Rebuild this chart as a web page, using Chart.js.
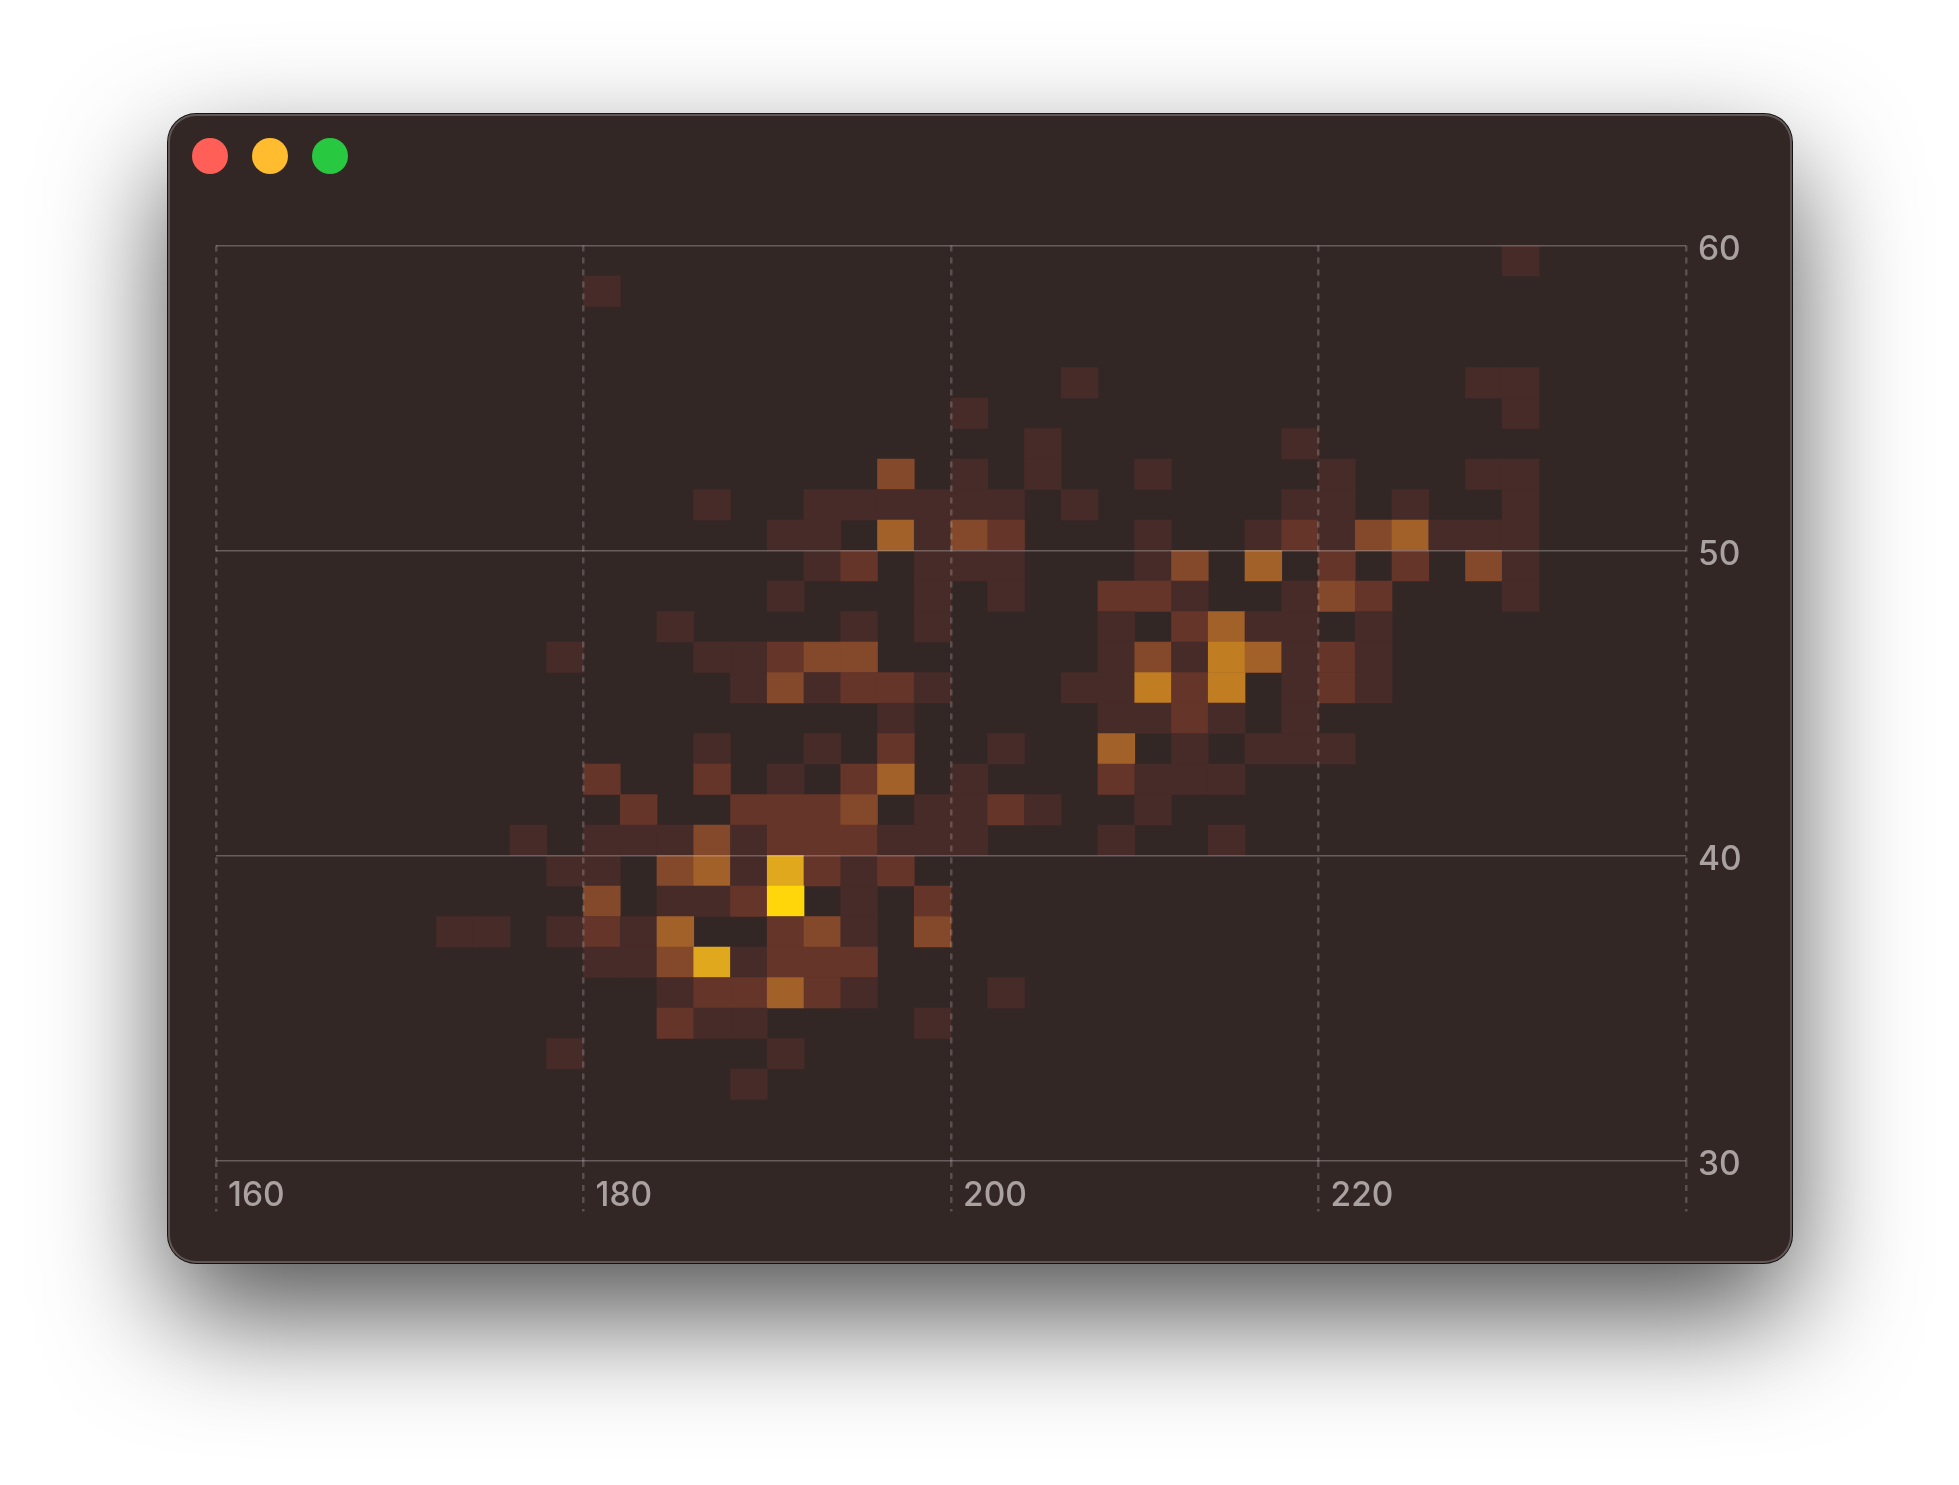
<!DOCTYPE html>
<html>
<head>
<meta charset="utf-8">
<title>Heatmap</title>
<script src="https://cdn.jsdelivr.net/npm/chart.js@4"></script>
<style>
html,body{margin:0;padding:0;background:#fff;width:1959px;height:1485px;overflow:hidden}
#win{position:absolute;left:168px;top:114px;width:1624px;height:1149px;box-sizing:border-box;border-radius:28px;background:#332726;
box-shadow:inset 0 0 0 2px #615756,0 0 0 1px #141414,0 52px 120px 0 rgba(0,0,0,.68)}
.dot{position:absolute;top:23.5px;width:36px;height:36px;border-radius:50%}
#c{position:absolute;left:0;top:0}
</style>
</head>
<body>
<div id="win">
<div class="dot" style="left:24px;background:#ff5f57"></div>
<div class="dot" style="left:84px;background:#febc2e"></div>
<div class="dot" style="left:144px;background:#28c840"></div>
</div>
<canvas id="c" width="1959" height="1485"></canvas>
<script>
// Bin edges: x bins are 2 wide from 160, y rows are 1 tall, listed from the top row down.
const xBinStart = [160,162,164,166,168,170,172,174,176,178,180,182,184,186,188,190,192,194,196,198,200,202,204,206,208,210,212,214,216,218,220,222,224,226,228,230,232,234,236,238];
const yBinStart = [59,58,57,56,55,54,53,52,51,50,49,48,47,46,45,44,43,42,41,40,39,38,37,36,35,34,33,32,31,30];
const xTicks = [160,180,200,220,240];
const xTickLabels = ['160','180','200','220',''];
const yTicks = [30,40,50,60];
const yTickLabels = ['30','40','50','60'];
// Observation count per cell: one row per yBinStart, one column per xBinStart.
const counts = [
[0,0,0,0,0,0,0,0,0,0, 0,0,0,0,0,0,0,0,0,0, 0,0,0,0,0,0,0,0,0,0, 0,0,0,0,0,1,0,0,0,0],
[0,0,0,0,0,0,0,0,0,0, 1,0,0,0,0,0,0,0,0,0, 0,0,0,0,0,0,0,0,0,0, 0,0,0,0,0,0,0,0,0,0],
[0,0,0,0,0,0,0,0,0,0, 0,0,0,0,0,0,0,0,0,0, 0,0,0,0,0,0,0,0,0,0, 0,0,0,0,0,0,0,0,0,0],
[0,0,0,0,0,0,0,0,0,0, 0,0,0,0,0,0,0,0,0,0, 0,0,0,0,0,0,0,0,0,0, 0,0,0,0,0,0,0,0,0,0],
[0,0,0,0,0,0,0,0,0,0, 0,0,0,0,0,0,0,0,0,0, 0,0,0,1,0,0,0,0,0,0, 0,0,0,0,1,1,0,0,0,0],
[0,0,0,0,0,0,0,0,0,0, 0,0,0,0,0,0,0,0,0,0, 1,0,0,0,0,0,0,0,0,0, 0,0,0,0,0,1,0,0,0,0],
[0,0,0,0,0,0,0,0,0,0, 0,0,0,0,0,0,0,0,0,0, 0,0,1,0,0,0,0,0,0,1, 0,0,0,0,0,0,0,0,0,0],
[0,0,0,0,0,0,0,0,0,0, 0,0,0,0,0,0,0,0,3,0, 1,0,1,0,0,1,0,0,0,0, 1,0,0,0,1,1,0,0,0,0],
[0,0,0,0,0,0,0,0,0,0, 0,0,0,1,0,0,1,1,1,1, 1,1,0,1,0,0,0,0,0,1, 1,0,1,0,0,1,0,0,0,0],
[0,0,0,0,0,0,0,0,0,0, 0,0,0,0,0,1,1,0,4,1, 3,2,0,0,0,1,0,0,1,2, 1,3,4,1,1,1,0,0,0,0],
[0,0,0,0,0,0,0,0,0,0, 0,0,0,0,0,0,1,2,0,1, 1,1,0,0,0,1,3,0,4,0, 2,0,2,0,3,1,0,0,0,0],
[0,0,0,0,0,0,0,0,0,0, 0,0,0,0,0,1,0,0,0,1, 0,1,0,0,2,2,1,0,0,1, 3,2,0,0,0,1,0,0,0,0],
[0,0,0,0,0,0,0,0,0,0, 0,0,1,0,0,0,0,1,0,1, 0,0,0,0,1,0,2,4,1,1, 0,1,0,0,0,0,0,0,0,0],
[0,0,0,0,0,0,0,0,0,1, 0,0,0,1,1,2,3,3,0,0, 0,0,0,0,1,3,1,5,4,1, 2,1,0,0,0,0,0,0,0,0],
[0,0,0,0,0,0,0,0,0,0, 0,0,0,0,1,3,1,2,2,1, 0,0,0,1,1,5,2,5,0,1, 2,1,0,0,0,0,0,0,0,0],
[0,0,0,0,0,0,0,0,0,0, 0,0,0,0,0,0,0,0,1,0, 0,0,0,0,1,1,2,1,0,1, 0,0,0,0,0,0,0,0,0,0],
[0,0,0,0,0,0,0,0,0,0, 0,0,0,1,0,0,1,0,2,0, 0,1,0,0,4,0,1,0,1,1, 1,0,0,0,0,0,0,0,0,0],
[0,0,0,0,0,0,0,0,0,0, 2,0,0,2,0,1,0,2,4,0, 1,0,0,0,2,1,1,1,0,0, 0,0,0,0,0,0,0,0,0,0],
[0,0,0,0,0,0,0,0,0,0, 0,2,0,0,2,2,2,3,0,1, 1,2,1,0,0,1,0,0,0,0, 0,0,0,0,0,0,0,0,0,0],
[0,0,0,0,0,0,0,0,1,0, 1,1,1,3,1,2,2,2,1,1, 1,0,0,0,1,0,0,1,0,0, 0,0,0,0,0,0,0,0,0,0],
[0,0,0,0,0,0,0,0,0,1, 1,0,3,4,1,6,2,1,2,0, 0,0,0,0,0,0,0,0,0,0, 0,0,0,0,0,0,0,0,0,0],
[0,0,0,0,0,0,0,0,0,0, 3,0,1,1,2,7,0,1,0,2, 0,0,0,0,0,0,0,0,0,0, 0,0,0,0,0,0,0,0,0,0],
[0,0,0,0,0,0,1,1,0,1, 2,1,4,0,0,2,3,1,0,3, 0,0,0,0,0,0,0,0,0,0, 0,0,0,0,0,0,0,0,0,0],
[0,0,0,0,0,0,0,0,0,0, 1,1,3,6,1,2,2,2,0,0, 0,0,0,0,0,0,0,0,0,0, 0,0,0,0,0,0,0,0,0,0],
[0,0,0,0,0,0,0,0,0,0, 0,0,1,2,2,4,2,1,0,0, 0,1,0,0,0,0,0,0,0,0, 0,0,0,0,0,0,0,0,0,0],
[0,0,0,0,0,0,0,0,0,0, 0,0,2,1,1,0,0,0,0,1, 0,0,0,0,0,0,0,0,0,0, 0,0,0,0,0,0,0,0,0,0],
[0,0,0,0,0,0,0,0,0,1, 0,0,0,0,0,1,0,0,0,0, 0,0,0,0,0,0,0,0,0,0, 0,0,0,0,0,0,0,0,0,0],
[0,0,0,0,0,0,0,0,0,0, 0,0,0,0,1,0,0,0,0,0, 0,0,0,0,0,0,0,0,0,0, 0,0,0,0,0,0,0,0,0,0],
[0,0,0,0,0,0,0,0,0,0, 0,0,0,0,0,0,0,0,0,0, 0,0,0,0,0,0,0,0,0,0, 0,0,0,0,0,0,0,0,0,0],
[0,0,0,0,0,0,0,0,0,0, 0,0,0,0,0,0,0,0,0,0, 0,0,0,0,0,0,0,0,0,0, 0,0,0,0,0,0,0,0,0,0]
];
const countColors = ['#332726','#472b28','#66352a','#84492b','#a3612a','#c17d22','#e0a81c','#ffd60a'];

const cells = [];
counts.forEach((row, r) => row.forEach((n, c) => {
  if (n > 0) cells.push({x: xBinStart[c] + 1, y: [yBinStart[r], yBinStart[r] + 1], n});
}));

const tickFont = {family: 'Inter, "Liberation Sans", Arial, sans-serif', size: 33.5, weight: '500'};
const tickColor = '#aaa2a1';

new Chart(document.getElementById('c'), {
  type: 'bar',
  data: {datasets: [{
    data: cells,
    backgroundColor: ctx => countColors[ctx.raw ? ctx.raw.n : 0],
    borderWidth: 0,
    barPercentage: 1,
    categoryPercentage: 1
  }]},
  options: {
    responsive: false,
    animation: false,
    events: [],
    layout: {padding: {left: 216, top: 245.5, right: 213, bottom: 224.5}},
    plugins: {legend: {display: false}, tooltip: {enabled: false}, title: {display: false}},
    scales: {
      x: {
        type: 'linear', position: 'bottom', min: 160, max: 240, offset: false,
        afterBuildTicks: s => { s.ticks = xTicks.map(v => ({value: v})); },
        afterFit: s => { s.height = 100; s.paddingLeft = 0; s.paddingRight = 0; },
        border: {display: false, dash: [6, 6]},
        grid: {
          z: 1, offset: false, color: 'rgba(255,255,255,.19)', lineWidth: 2.5,
          tickBorderDash: [6, 6],
          tickColor: 'rgba(255,255,255,.19)', tickWidth: 2.5, tickLength: 51, drawTicks: true
        },
        ticks: {
          autoSkip: false, maxRotation: 0, minRotation: 0, align: 'start',
          labelOffset: 12, padding: -36, color: tickColor, font: tickFont,
          callback: v => xTickLabels[xTicks.indexOf(v)]
        }
      },
      y: {
        type: 'linear', position: 'right', min: 30, max: 60,
        afterBuildTicks: s => { s.ticks = yTicks.map(v => ({value: v})); },
        afterFit: s => { s.width = 60; s.paddingTop = 0; s.paddingBottom = 0; },
        border: {display: false},
        grid: {z: 1, color: 'rgba(255,255,255,.25)', lineWidth: 1.5, drawTicks: false},
        ticks: {
          autoSkip: false, padding: 12, labelOffset: 4, color: tickColor, font: tickFont,
          callback: v => yTickLabels[yTicks.indexOf(v)]
        }
      }
    }
  }
});
</script>
</body>
</html>
